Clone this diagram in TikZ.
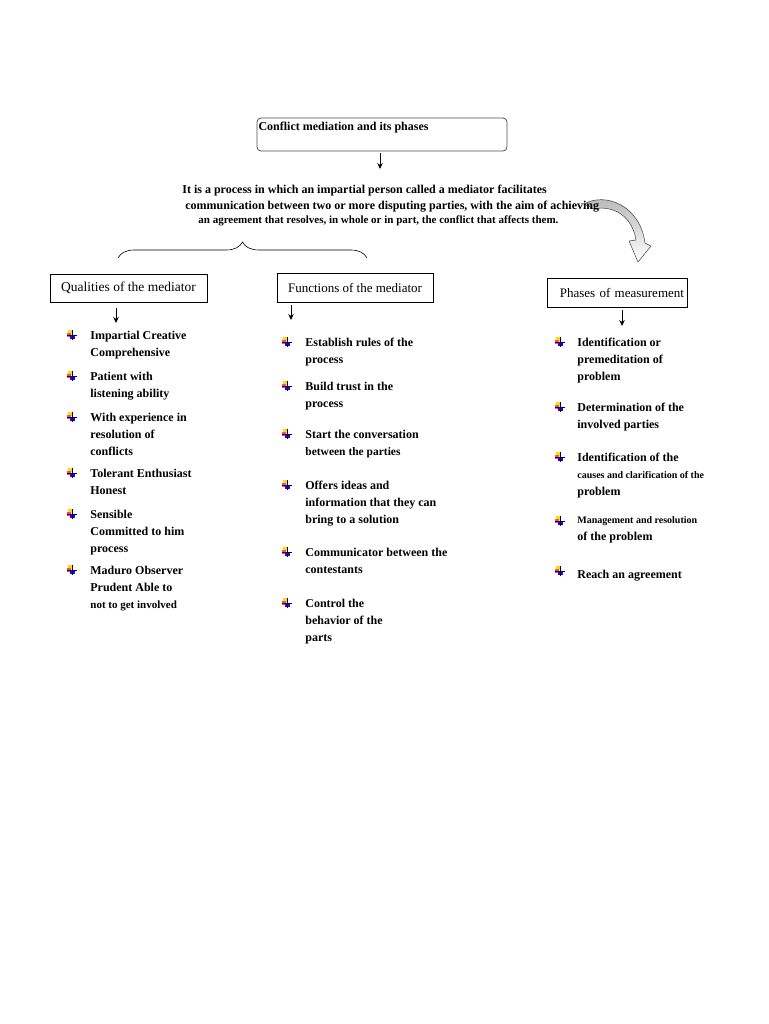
\documentclass[tikz,border=0pt]{standalone}
\usepackage{fontspec}
\setmainfont{Liberation Serif}
\usetikzlibrary{positioning, calc, arrows.meta, decorations.pathreplacing}

\tikzset{
	box/.style={rectangle, draw, line width=0.8pt, inner sep=2pt, font=\fontsize{13}{15}\selectfont},
	titlebox/.style={rectangle, draw=gray!60!black, rounded corners=4pt, line width=0.8pt, minimum width=250pt, minimum height=33pt},
	arr/.style={-{Stealth[length=6pt, width=5.5pt]}, line width=0.8pt},
	itemtext/.style={anchor=north west, align=left, inner sep=0pt, font=\fontsize{12}{17}\selectfont\bfseries, execute at begin node=\strut},
	mbullet/.pic={
		\fill[yellow!80!orange] (-4,-5) rectangle (0,-1);
		\fill[red!60!pink] (-5,-2) rectangle (-1,2);
		\fill[blue!60!violet] (-2,0) rectangle (3,4);
		\draw[blue!40!black, line width=0.9pt] (0,-5) -- (0,5);
		\draw[blue!40!black, line width=0.9pt] (-5,0.5) -- (5,0.5);
	}
}

\begin{document}
\begin{tikzpicture}[x=1pt, y=-1pt, line width=0.8pt]
	\useasboundingbox (0,0) rectangle (768,1024);

	% header
	\node[titlebox, label={[anchor=north west, inner xsep=1.5pt, inner ysep=4.5pt, font=\fontsize{12}{14}\selectfont\bfseries]north west:Conflict mediation and its phases}] (title) at (382,134.5) {};
	\coordinate (tarr) at (380,169);
	\draw[arr, shorten <=2pt] (title.south -| tarr) -- (tarr);

	% curved block arrow
	\draw[gray!50!black, line width=0.5pt, top color=gray!60, bottom color=white] (584,204) .. controls (605,192) and (640,205) .. (645,243) -- (651,246) -- (638,262) -- (629,241) -- (636,240) .. controls (632,215) and (612,205) .. (594,209) -- cycle;

	\node[anchor=north west, align=left, inner sep=0pt, font=\fontsize{12}{16}\selectfont\bfseries, execute at begin node=\strut] (desc) at (182,184.3) {It is a process in which an impartial person called a mediator facilitates\\ \hspace*{3pt}communication between two or more disputing parties, with the aim of achieving\\[-2pt] \hspace*{16pt}{\fontsize{11}{13}\selectfont an agreement that resolves, in whole or in part, the conflict that affects them.}};

	% brace
	\coordinate (brl) at (118,258);
	\coordinate (brr) at (367,258);
	\draw[line width=0.6pt, decorate, decoration={brace, amplitude=16pt}] (brl) -- (brr);

	% column boxes
	\node[box, minimum width=157pt, minimum height=28pt, font=\fontsize{13.5}{15}\selectfont] (qual) at (128.5,288) {Qualities of the mediator};
	\node[box, minimum width=156pt, minimum height=29pt] (func) at (355,287.5) {Functions of the mediator};
	\node[box, minimum height=29pt, text width=134pt, align=right, inner xsep=3pt] (phas) at (617,292.5) {Phases of measurement};

	\coordinate (qarr) at (116,323);
	\coordinate (farr) at (291,320);
	\coordinate (parr) at (622,326);
	\draw[arr, shorten <=6pt] (qual.south -| qarr) -- (qarr);
	\draw[arr, shorten <=3pt] (func.south -| farr) -- (farr);
	\draw[arr, shorten <=3pt] (phas.south -| parr) -- (parr);

	% qualities
	\foreach \n/\y/\t in {q1/339/{Impartial Creative\\Comprehensive}, q2/380/{Patient with\\listening ability}, q3/421/{With experience in\\resolution of\\conflicts}, q4/477/{Tolerant Enthusiast\\Honest}, q5/518/{Sensible\\Committed to him\\process}, q6/574/{Maduro Observer\\Prudent Able to\\{\fontsize{11}{13}\selectfont not to get involved}}} {
		\node[itemtext] (\n) at (90,\y-8.4) {\t};
		\pic at (72,\y-4.5) {mbullet};
	}

	% functions
	\foreach \n/\y/\t in {f1/346/{Establish rules of the\\process}, f2/390/{Build trust in the\\process}, f3/438/{Start the conversation\\{\fontsize{11.5}{13}\selectfont between the parties}}, f4/489/{Offers ideas and\\information that they can\\bring to a solution}, f5/556/{Communicator between the\\contestants}, f6/607/{Control the\\behavior of the\\parts}} {
		\node[itemtext] (\n) at (305,\y-8.4) {\t};
		\pic at (287,\y-4.5) {mbullet};
	}

	% phases
	\foreach \n/\y/\t in {p1/346/{Identification or\\premeditation of\\problem}, p2/411/{Determination of the\\involved parties}, p3/461/{Identification of the\\{\fontsize{10}{12}\selectfont causes and clarification of the}\\problem}, p4/525/{{\fontsize{10}{12}\selectfont Management and resolution}\\of the problem}, p5/575/{Reach an agreement}} {
		\node[itemtext] (\n) at (577,\y-8.4) {\t};
		\pic at (560,\y-4.5) {mbullet};
	}
\end{tikzpicture}
\end{document}
